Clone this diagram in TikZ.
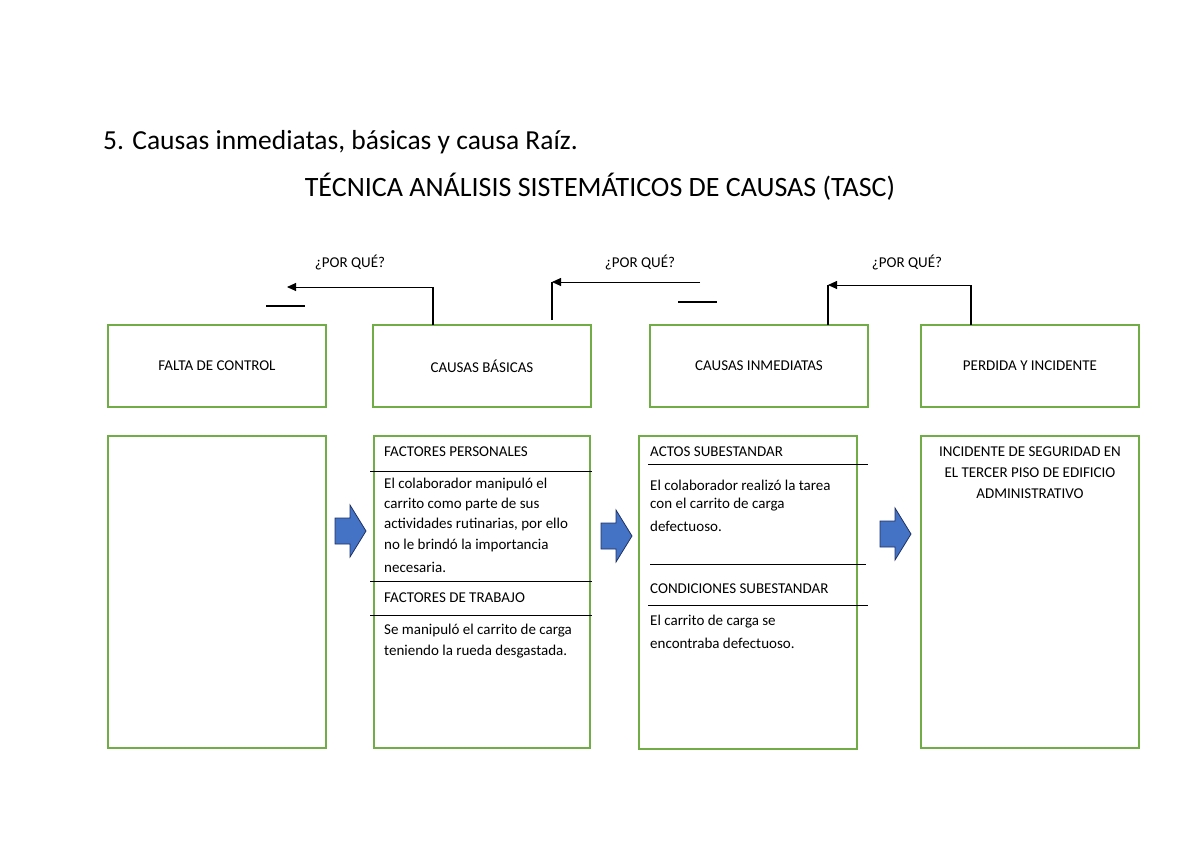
\documentclass[tikz,border=0pt]{standalone}
\usepackage{fontspec}
\setmainfont{Carlito}
\usetikzlibrary{arrows.meta}
\definecolor{gr}{RGB}{112,173,71}
\definecolor{bl}{RGB}{68,114,196}
\definecolor{bld}{RGB}{30,50,100}
\begin{document}
\begin{tikzpicture}[x=1pt,y=-1pt,
 box/.style={draw=gr,line width=1.6pt},
 sm/.style={font=\fontsize{15}{18}\selectfont,anchor=west,inner sep=0},
 hd/.style={font=\fontsize{15}{18}\selectfont,inner sep=0},
 thk/.style={line width=2.4pt},
 thn/.style={line width=0.9pt},
 barr/.style={draw=bld,fill=bl,line width=0.8pt}]
\useasboundingbox (0,0) rectangle (1200,849);
\node[anchor=west,inner sep=0,font=\fontsize{27.5}{30}\selectfont] (t1) at (103,142) {5. Causas inmediatas, básicas y causa Raíz.};
\node[inner sep=0,font=\fontsize{28}{30}\selectfont] (t2) at (600,187) {TÉCNICA ANÁLISIS SISTEMÁTICOS DE CAUSAS (TASC)};
% top boxes
\node[box,hd,minimum width=218pt,minimum height=82pt] (b1) at (217,366) {FALTA DE CONTROL};
\node[box,hd,minimum width=218pt,minimum height=82pt] (b2) at (482,366) {CAUSAS BÁSICAS};
\node[box,hd,minimum width=218pt,minimum height=82pt] (b3) at (759,366) {CAUSAS INMEDIATAS};
\node[box,hd,minimum width=218pt,minimum height=82pt] (b4) at (1030,366) {PERDIDA Y INCIDENTE};
% lower boxes
\draw[box] (108,436) rectangle (326,748);
\draw[box] (374,436) rectangle (590,748);
\draw[box] (639,436) rectangle (857,749);
\draw[box] (921,436) rectangle (1139,748);
% box2
\draw[thn] (370,471) -- (592,471);
\draw[thn] (370,581) -- (592,581);
\draw[thn] (370,615) -- (592,615);
\node[sm] (p1) at (384,452) {FACTORES PERSONALES};
\node[sm] at (384,484) {El colaborador manipuló el};
\node[sm] at (384,504) {carrito como parte de sus};
\node[sm] at (384,524) {actividades rutinarias, por ello};
\node[sm] at (384,545) {no le brindó la importancia};
\node[sm] at (384,567) {necesaria.};
\node[sm] at (384,598) {FACTORES DE TRABAJO};
\node[sm] at (384,631) {Se manipuló el carrito de carga};
\node[sm] at (384,652) {teniendo la rueda desgastada.};
% box3
\draw[thn] (648,464) -- (868,464);
\draw[thn] (650,564) -- (866,564);
\draw[thn] (648,605) -- (868,605);
\node[sm] at (650,452) {ACTOS SUBESTANDAR};
\node[sm] at (650,485) {El colaborador realizó la tarea};
\node[sm] at (650,505) {con el carrito de carga};
\node[sm] at (650,526) {defectuoso.};
\node[sm] at (650,589) {CONDICIONES SUBESTANDAR};
\node[sm] at (650,622) {El carrito de carga se};
\node[sm] at (650,643) {encontraba defectuoso.};
% box4
\node[hd] at (1030,452) {INCIDENTE DE SEGURIDAD EN};
\node[hd] at (1030,473) {EL TERCER PISO DE EDIFICIO};
\node[hd] at (1030,494) {ADMINISTRATIVO};
% block arrows
\foreach \x/\y in {335/505,601/510,880/508}{
 \draw[barr] (\x,\y+13) -- (\x+15,\y+13) -- (\x+15,\y) -- (\x+31,\y+26) -- (\x+15,\y+52) -- (\x+15,\y+39) -- (\x,\y+39) -- cycle;}
% why arrows
\node[hd] (q1) at (350,262) {¿POR QUÉ?};
\node[hd] (q2) at (640,262) {¿POR QUÉ?};
\node[hd] (q3) at (907,262) {¿POR QUÉ?};
\coordinate (c1a) at (433,287); \coordinate (c1b) at (287,287);
\draw[thk] (433,325) -- (c1a);
\draw[thn,-{Triangle[length=9pt,width=8pt]}] (c1a) -- (c1b);
\draw[thk] (266,306) -- (305,306);
\coordinate (c2a) at (700,282); \coordinate (c2b) at (552,282);
\draw[thk] (552,320) -- (552,282);
\draw[thn,-{Triangle[length=9pt,width=8pt]}] (c2a) -- (c2b);
\draw[thk] (678,302) -- (717,302);
\draw[thk] (971,325) -- (971,285);
\draw[thk] (828,325) -- (828,285);
\draw[thn,-{Triangle[length=9pt,width=8pt]}] (971,285) -- (828,285);
\end{tikzpicture}
\end{document}
